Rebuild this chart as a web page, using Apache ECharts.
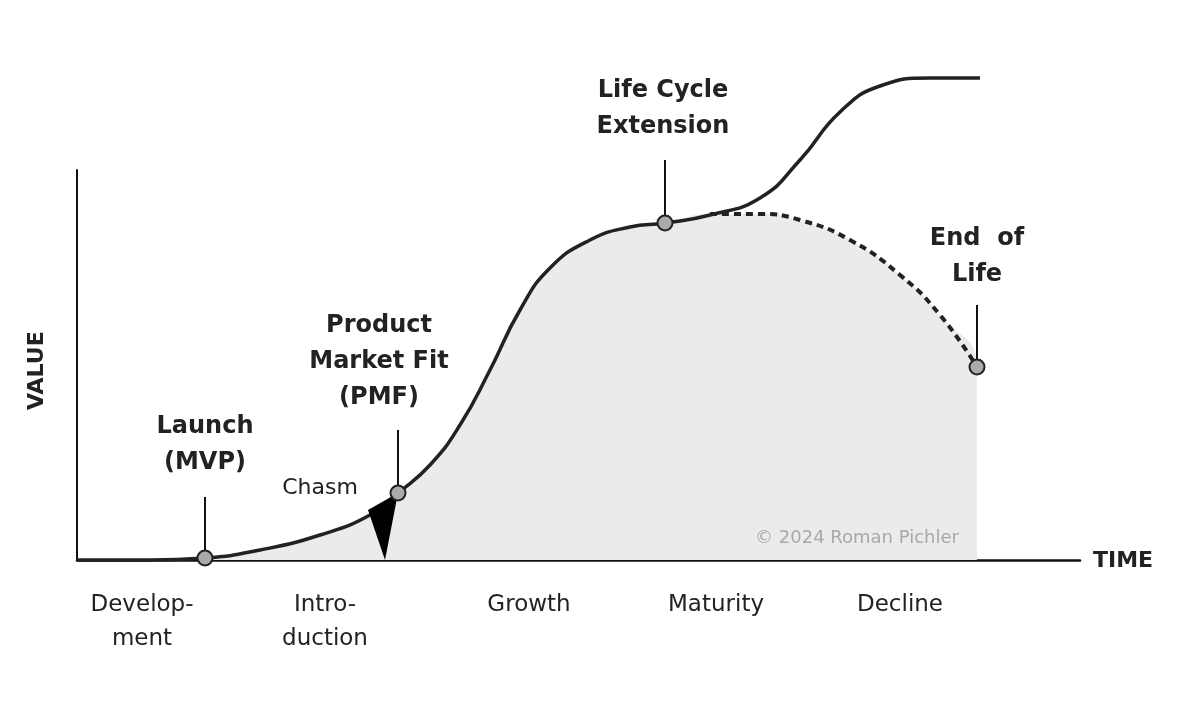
<!DOCTYPE html><html><head><meta charset="utf-8">
<script src="https://cdn.jsdelivr.net/npm/echarts@6/dist/echarts.min.js"></script>
<style>html,body{margin:0;background:#fff}#c{width:1200px;height:708px}</style></head><body><div id="c"></div>
<script>
// data in units: x = time, y = value
const solidCurve=[[0,0],[73,0],[128,2],[183,10],[243,25],[293,45],[321,67],[353,95],[383,135],[413,190],[443,250],[473,292],[513,320],[553,333],[588,337],[633,345],[683,362],[723,400],[763,448],[803,474],[853,482],[903,482]];
const dashedCurve=[[633,346],[683,346],[723,340],[773,320],[823,285],[863,245],[900,193]];
const areaCurve=[[0,0],[73,0],[128,2],[183,10],[243,25],[293,45],[321,67],[353,95],[383,135],[413,190],[443,250],[473,292],[513,320],[553,333],[588,337],[633,346],[683,346],[723,340],[773,320],[823,285],[863,245],[900,193],[900,0]];
const chasm=[[291,50],[321,67],[308,0]];
const milestones=[{name:'Launch\n(MVP)',x:128,y:2,top:63,lx:128,ly:115},{name:'Product\nMarket Fit\n(PMF)',x:321,y:67,top:130,lx:302,ly:198},{name:'Life Cycle\nExtension',x:588,y:337,top:400,lx:586,ly:451},{name:'End  of\nLife',x:900,y:193,top:255,lx:900,ly:303}];
const phases=[['Develop-\nment',65],['Intro-\nduction',248],['Growth',452],['Maturity',639],['Decline',823]];
const F='DejaVu Sans';
const chart=echarts.init(document.getElementById('c'));
const lbl={show:true,fontFamily:F,color:'#222'};
chart.setOption({
 animation:false,
 grid:{left:77,right:120,top:170,bottom:148},
 xAxis:{type:'value',min:0,max:1003,axisLine:{lineStyle:{color:'#111',width:2.5}},axisTick:{show:false},axisLabel:{show:false},splitLine:{show:false}},
 yAxis:{type:'value',min:0,max:390,axisLine:{show:true,lineStyle:{color:'#111',width:2}},axisTick:{show:false},axisLabel:{show:false},splitLine:{show:false}},
 series:[
  {type:'line',data:areaCurve,smooth:0.5,clip:false,symbol:'none',lineStyle:{width:0},areaStyle:{color:'#ebebeb',opacity:1},z:1},
  {type:'line',data:dashedCurve,smooth:0.5,clip:false,symbol:'none',lineStyle:{color:'#222',width:4,type:[7,5]},z:3},
  {type:'line',data:solidCurve,smooth:0.5,clip:false,symbol:'none',lineStyle:{color:'#222',width:3.5},z:4},
  {type:'custom',clip:false,z:5,data:[0],renderItem:(p,api)=>({type:'polygon',shape:{points:chasm.map(d=>api.coord(d))},style:{fill:'#000'}})},
  {type:'custom',clip:false,z:5,data:milestones.map(m=>[m.x,m.y,m.top]),renderItem:(p,api)=>{const a=api.coord([api.value(0),api.value(1)]),b=api.coord([api.value(0),api.value(2)]);return {type:'line',shape:{x1:a[0],y1:a[1],x2:b[0],y2:b[1]},style:{stroke:'#111',lineWidth:2}};}},
  {type:'scatter',clip:false,z:6,data:milestones.map(m=>[m.x,m.y]),symbolSize:15,itemStyle:{color:'#aaa',borderColor:'#222',borderWidth:2,opacity:1}},
  {type:'scatter',clip:false,z:7,symbolSize:0,itemStyle:{opacity:1},data:milestones.map(m=>({value:[m.lx,m.ly],label:{formatter:m.name}})),label:Object.assign({},lbl,{position:'inside',fontWeight:'bold',fontSize:24,lineHeight:36,align:'center'})},
  {type:'scatter',clip:false,z:7,symbolSize:0,itemStyle:{opacity:1},data:phases.map(p=>({value:[p[1],-28],label:{formatter:p[0]}})),label:Object.assign({},lbl,{position:'inside',verticalAlign:'top',fontSize:23,lineHeight:34,align:'center'})},
  {type:'scatter',clip:false,z:7,symbolSize:0,itemStyle:{opacity:1},data:[{value:[243,72],label:{formatter:'Chasm'}},{value:[780,22],label:{formatter:'© 2024 Roman Pichler',fontSize:18,color:'#a8a8a8'}}],label:Object.assign({},lbl,{position:'inside',fontSize:22})}
 ],
 graphic:[
  {type:'text',left:1093,top:550,style:{text:'TIME',font:'bold 22px "DejaVu Sans"',fill:'#222'}},
  {type:'text',x:26,y:410,rotation:Math.PI/2,style:{text:'VALUE',font:'bold 22px "DejaVu Sans"',fill:'#222'}}
 ]
});
</script></body></html>
